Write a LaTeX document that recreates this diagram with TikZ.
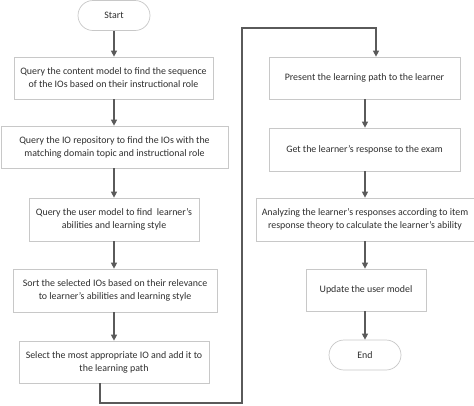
\documentclass[tikz,border=0pt]{standalone}
\usepackage{fontspec}
\setmainfont{Carlito}
\usetikzlibrary{arrows.meta}
\definecolor{boxline}{HTML}{C8C8C8}
\definecolor{arrline}{HTML}{5A5A5A}
\definecolor{txt}{HTML}{2E2E2E}
\tikzset{
  stepbox/.style={draw=boxline, line width=0.7pt, fill=white, align=center, text=txt,
    font=\fontsize{9.9}{13}\selectfont, inner sep=0pt},
  termbox/.style={stepbox, rounded corners=15pt, minimum width=72pt, minimum height=30pt},
  flow/.style={draw=arrline, line width=1.2pt, -{Triangle[length=6pt,width=6pt]}},
}
\begin{document}
\begin{tikzpicture}[x=1pt,y=-1pt]
\useasboundingbox (0,0) rectangle (474,405);
% left column
\node[termbox] (start) at (114,15.5) {Start};
\node[stepbox, minimum width=199pt, minimum height=42pt] (b1) at (113.5,78)
  {Query the content model to find the sequence\\of the IOs based on their instructional role};
\node[stepbox, minimum width=227pt, minimum height=42pt] (b2) at (114.5,147)
  {Query the IO repository to find the IOs with the\\matching domain topic and instructional role};
\node[stepbox, minimum width=170pt, minimum height=43pt] (b3) at (114,219.5)
  {Query the user model to find \ learner’s\\abilities and learning style};
\node[stepbox, minimum width=204pt, minimum height=43pt] (b4) at (115,290.5)
  {Sort the selected IOs based on their relevance\\to learner’s abilities and learning style};
\node[stepbox, minimum width=190pt, minimum height=42pt] (b5) at (114,362)
  {Select the most appropriate IO and add it to\\the learning path};
% right column
\node[stepbox, minimum width=191pt, minimum height=42pt] (b6) at (364.5,78)
  {Present the learning path to the learner};
\node[stepbox, minimum width=191pt, minimum height=43pt] (b7) at (364.5,149.5)
  {Get the learner’s response to the exam};
\node[stepbox, minimum width=218pt, minimum height=43pt] (b8) at (365,219.5)
  {Analyzing the learner’s responses according to item\\response theory to calculate the learner’s ability};
\node[stepbox, minimum width=120pt, minimum height=42pt] (b9) at (366,290)
  {Update the user model};
\node[termbox] (end) at (365,355) {End};
% connectors
\coordinate (a0) at (114,0);
\draw[flow] (start.south -| a0) -- (b1.north -| a0);
\draw[flow] (b1.south -| a0) -- (b2.north -| a0);
\draw[flow] (b2.south -| a0) -- (b3.north -| a0);
\draw[flow] (b3.south -| a0) -- (b4.north -| a0);
\draw[flow] (b4.south -| a0) -- (b5.north -| a0);
\coordinate (c0) at (100,0);
\coordinate (c1) at (100,403);
\coordinate (c2) at (242,403);
\coordinate (c3) at (242,28);
\coordinate (c4) at (376,28);
\draw[flow] (b5.south -| c0) -- (c1) -- (c2) -- (c3) -- (c4) -- (c4 |- b6.north);
\coordinate (r0) at (365,0);
\draw[flow] (b6.south -| r0) -- (b7.north -| r0);
\draw[flow] (b7.south -| r0) -- (b8.north -| r0);
\draw[flow] (b8.south -| r0) -- (b9.north -| r0);
\draw[flow] (b9.south -| r0) -- (end.north -| r0);
\end{tikzpicture}
\end{document}
